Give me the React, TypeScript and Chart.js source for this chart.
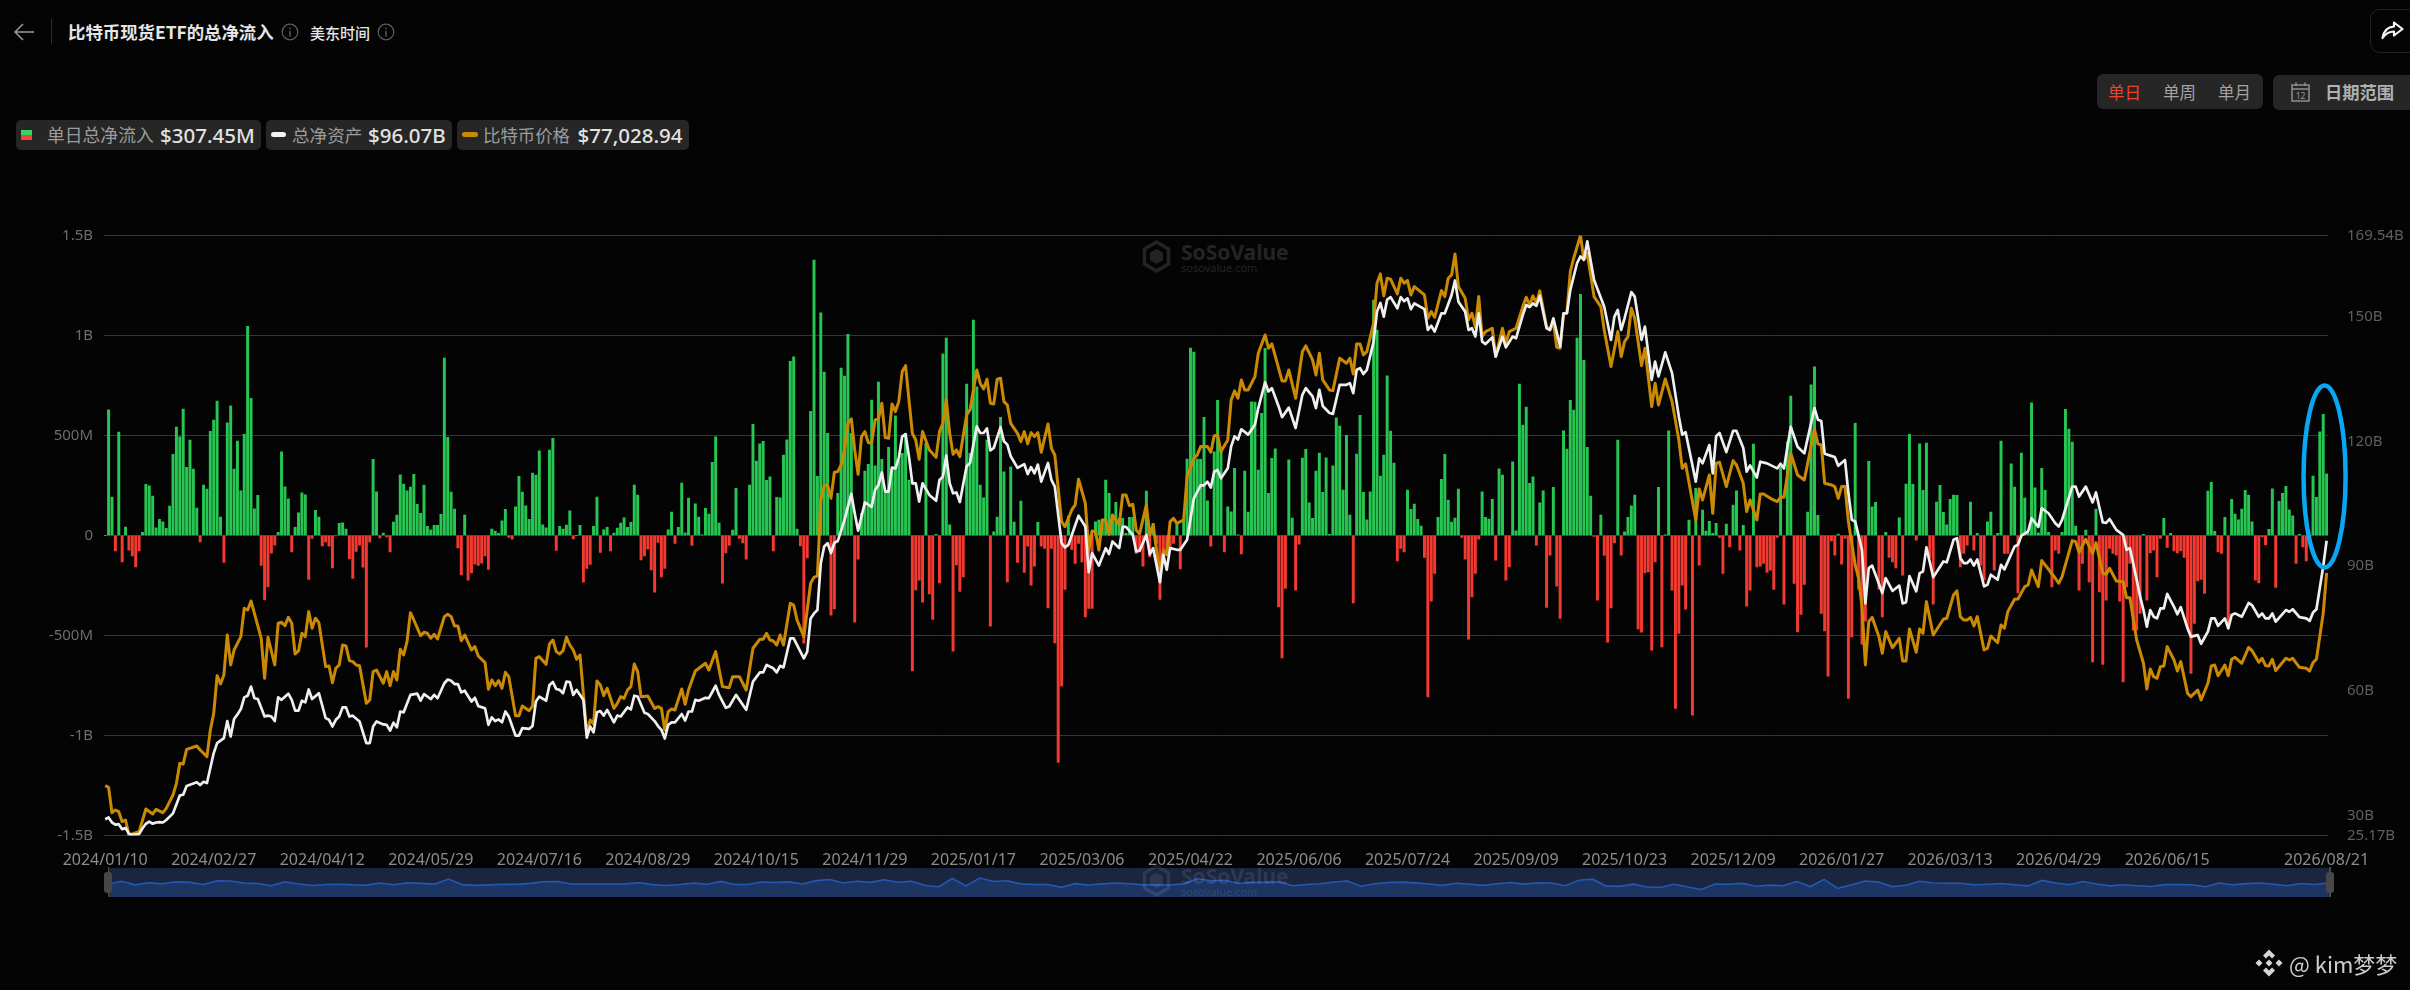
import React, { useEffect, useRef } from "react";
import { Chart, registerables } from "chart.js";

Chart.register(...registerables);

// Daily total net inflow, in millions of USD, one value per trading day.
const netInflow: number[] = [
  0,628,192,-77,517,-132,42,-73,-102,-157,
  -77,15,255,248,197,38,80,68,35,147,
  405,542,493,632,340,477,332,137,-32,252,
  232,520,577,672,92,-135,563,648,332,472,
  223,505,1045,685,133,200,-150,-322,-257,-88,
  -48,15,418,243,183,-82,40,113,213,203,
  -220,-15,125,92,-52,-32,-53,-162,-2,60,
  63,32,-117,-215,-80,-48,-158,-558,-32,380,
  218,-12,12,-7,-82,67,102,303,257,223,
  242,305,155,110,252,45,28,50,50,105,
  887,490,217,132,-62,-197,102,-223,-187,-143,
  -150,-138,-102,-170,32,22,10,73,130,-10,
  -18,143,295,217,148,80,312,302,423,53,
  38,427,485,-75,45,32,52,123,-17,0,
  50,-233,-165,-145,45,192,-85,28,40,-77,
  12,37,62,88,40,65,252,202,-122,-102,
  -68,-172,-283,-35,-207,-165,28,117,-40,40,
  262,13,187,-50,158,92,3,135,107,365,
  493,62,-238,-87,-50,27,235,-15,-37,-118,
  252,555,372,458,470,275,293,-77,190,188,
  402,478,870,893,32,-52,-538,-112,620,1377,
  295,1113,817,510,-398,-367,210,837,797,1005,
  510,-433,-118,110,322,355,677,348,767,380,
  227,440,335,598,377,410,510,277,-677,-272,
  -223,-333,460,-292,-420,5,-237,908,987,53,
  -578,-147,-280,-207,757,410,1077,743,252,188,
  477,-453,18,92,590,318,-232,343,67,-135,
  172,-185,-53,-248,-153,65,-53,-65,-362,-65,
  -537,-1135,-752,-270,97,-70,-140,-40,-132,-407,
  -365,-365,68,77,78,277,210,103,165,85,
  85,10,90,90,-90,-82,-153,222,-107,60,
  -40,-320,-140,-90,-57,-40,68,-167,77,382,
  937,917,382,380,590,173,-53,418,675,427,
  -82,143,118,335,3,-92,322,117,668,667,
  327,610,935,210,385,433,-357,-612,-265,378,
  87,-273,-43,387,430,163,85,322,412,215,
  388,5,348,588,547,227,500,102,-337,407,
  600,215,78,218,1177,1027,297,402,798,522,
  362,-127,-65,-82,227,130,157,80,47,-110,
  -807,-328,-190,90,280,405,177,67,87,232,
  -10,-118,-518,-307,-190,-18,218,90,82,180,
  -123,333,302,-223,-157,368,23,757,552,642,
  260,293,-48,163,223,-360,-98,240,-253,-415,
  523,432,675,627,987,1205,875,440,197,-5,
  -323,102,-100,-533,-362,-37,477,-98,18,90,
  148,202,-467,-483,-187,-182,-573,-132,240,-557,
  2,523,-273,-865,-490,-248,-368,77,-898,235,
  -148,127,22,70,10,60,-10,-190,57,-57,
  152,223,-73,50,-353,-273,457,-157,-153,-140,
  -185,-173,-270,-10,343,-343,468,697,-240,-482,
  -395,-245,117,753,843,100,-390,-477,-703,-27,
  -98,7,-143,-15,-815,-507,560,-268,-543,-428,
  370,143,165,-268,-407,15,-110,-132,-162,88,
  -198,257,505,255,-23,458,225,462,-110,-343,
  167,250,115,53,180,202,200,-157,-90,-48,
  167,-73,10,-148,-223,68,117,-173,10,472,
  -90,-90,358,242,-287,412,187,10,663,238,
  13,335,225,15,-257,-73,-90,15,630,532,
  467,47,-273,-140,27,-232,-632,132,-282,-645,
  -323,-65,-90,-98,-328,-732,-257,-140,-473,-473,
  -390,5,-323,-87,-73,-207,-15,85,-60,10,
  -77,-87,-77,-110,-465,-690,-440,-227,-220,-290,
  222,265,20,-82,-90,90,-465,180,107,78,
  132,225,202,68,-223,-237,-7,-47,30,233,
  -260,170,210,245,128,98,-140,5,-57,-127,
  0,297,190,518,605,307.45,
];

// Total net assets, in billions of USD: [trading-day index, value] at each turning point read.
const netAssets: [number, number][] = [
  [0,29.1],[1,29.5],[2,28.3],[3,27.8],[4,27.9],[5,26.7],[6,27],[7,25.6],[8,25.3],[10,25.5],[11,26.9],[12,28],[13,28.5],[14,28],[15,28.3],[16,28.4],[17,28.3],[18,28.9],[20,30.5],[22,34.8],[23,35],[24,37.1],[26,37.7],[27,38],[28,37.3],[29,38.1],[30,37.8],[31,41.4],[32,45],[33,47.4],[35,48.6],[36,52.7],[37,49],[38,53.2],[39,54.3],[40,55.6],[41,58.4],[42,58.8],[43,61],[44,58.2],[45,58],[47,53.8],[48,54],[49,53.8],[50,52.7],[51,58.4],[52,57.8],[54,59.3],[55,57.8],[56,55.2],[57,55.2],[58,57.6],[59,57.2],[60,60.3],[61,58],[63,59.4],[65,53.4],[66,53],[67,51.4],[68,53],[69,53.8],[70,56],[71,56],[72,53.8],[73,54],[75,52.6],[77,47.4],[78,47.4],[79,51.4],[80,52.6],[82,51.9],[83,51.8],[84,50.4],[85,52.3],[86,51.2],[87,55],[88,54.8],[90,59],[92,59.3],[93,57.6],[94,59.2],[96,58],[97,59],[98,58.2],[100,61.8],[101,62.7],[102,62.4],[103,61.6],[104,61.6],[105,59.6],[106,60],[108,57.4],[109,58.3],[110,56.3],[112,55.8],[113,51.8],[114,53.6],[115,52.7],[116,53.1],[117,52.4],[118,55],[119,53.8],[121,49.2],[122,49.2],[123,51],[125,50.8],[126,51.5],[127,57.4],[128,58.6],[130,57.6],[131,61.4],[132,62.1],[133,60.4],[134,60.2],[135,59.4],[136,62.2],[137,62.1],[138,59],[139,60.2],[141,57.8],[142,48.7],[143,51.4],[144,50],[145,54.8],[146,55.1],[147,54],[148,55.4],[150,52.4],[151,54],[152,53.8],[154,56],[155,55.5],[156,58.8],[157,58.6],[159,54.7],[160,54.4],[162,52.7],[163,51.5],
  [164,50.6],[165,48.5],[166,51.8],[167,52.4],[168,52.4],[170,54.4],[171,52.8],[172,55],[173,55],[174,57.8],[175,57.6],[177,58.3],[178,58.2],[180,61.2],[181,59],[183,55.9],[184,56.2],[186,59],[189,55.4],[191,62.2],[193,64.4],[194,64.4],[195,66.2],[197,65.4],[198,64.4],[199,66],[200,65.6],[202,72.6],[203,72.6],[206,67.8],[207,69.4],[208,77.4],[209,78.6],[210,79.4],[211,90.7],[212,94.7],[213,95.5],[214,93.1],[215,95.6],[216,96],[218,101.1],[220,107.4],[221,102.7],[222,98.5],[224,105.3],[226,104.2],[227,108.3],[228,109.5],[229,112.5],[230,107.9],[231,107.9],[232,113.7],[233,113.5],[234,116],[235,121.2],[236,121.7],[237,116.3],[238,109.9],[239,109.9],[240,105.5],[241,109.9],[243,107.1],[245,105.7],[246,110.7],[247,111.5],[248,116.6],[249,109.9],[250,107.5],[251,107.7],[252,105.4],[254,114],[255,114.8],[257,123.6],[258,122],[259,122],[260,123.1],[261,117.8],[262,118.4],[264,123.4],[265,120],[266,119.2],[267,116.4],[269,113.6],[271,114.5],[272,112.1],[273,113.8],[274,112.3],[275,114.4],[276,110.3],[278,114.8],[279,110.7],[280,109.1],[282,95.5],[283,94.5],[284,95.1],[287,102.1],[289,99.5],[290,88.5],[291,93.1],[293,90.1],[295,94.3],[296,92.9],[297,95.9],[299,94.3],[300,99.4],[301,99.4],[303,97.5],[304,93.5],[305,93.7],[307,97.5],[308,92.8],[309,94.3],[311,86.1],[312,92.7],[313,89.1],[314,94.3],[316,93.9],[317,93.9],[319,96.3],[321,106.3],[323,109.4],[324,109.4],[325,110.3],[326,108.9],[327,112.7],[328,113.1],[329,111.1],[331,113.5],[332,118.8],[333,121.2],[334,120.4],[335,122.9],[337,121.6],[339,124],[340,128],
  [342,134.2],[343,132],[344,132.8],[346,128.4],[347,125.8],[349,128.1],[351,123.2],[353,131.2],[354,132.8],[356,130.8],[357,128],[358,132.4],[359,128.5],[361,126.8],[362,126.6],[364,133.6],[366,133.6],[367,134],[368,131.6],[369,137.2],[370,137.6],[371,136.2],[372,137.2],[374,144],[375,151.2],[376,153.3],[377,150],[378,154.1],[379,154.7],[381,152],[382,154.7],[383,153.7],[384,154.4],[385,151.8],[386,153.2],[389,151.8],[390,146.8],[391,147.8],[392,146.4],[394,150.8],[395,150.8],[397,155.2],[398,158.7],[399,153.6],[401,151.2],[402,146.8],[403,147.2],[404,145.2],[405,150.8],[406,144],[407,143.4],[409,145],[410,140.4],[412,145.2],[413,142.6],[415,145.2],[416,144.8],[418,150.4],[419,152.8],[420,152.3],[421,153.2],[422,152.6],[423,155],[425,147.2],[426,146.8],[427,149.6],[429,142.8],[430,150.8],[431,150.8],[432,156.4],[434,162.9],[435,164.5],[436,163.7],[437,168.1],[439,158.8],[442,152.4],[444,144.4],[445,150],[446,151.6],[447,146.8],[448,149.6],[450,155.9],[451,154.8],[453,144.4],[454,147.6],[456,134.8],[457,139.2],[458,135.6],[460,141.4],[462,136.4],[464,126],[465,121.6],[466,122.2],[469,110.3],[470,115.9],[471,114.7],[473,119.1],[474,112.3],[475,121.2],[476,122],[478,117.4],[480,122.5],[481,122.5],[483,118.4],[484,112.7],[485,114.2],[487,111.3],[488,115.1],[490,114.7],[493,113.5],[494,114.6],[495,113.5],[497,123.5],[499,118.7],[501,117.1],[504,128],[505,125.2],[506,124.9],[507,117],[510,116.2],[511,114.1],[513,115.5],[514,107.5],[515,101.1],[516,100.7],
  [518,93.9],[519,81],[520,89.5],[521,90.1],[524,83.5],[525,87.1],[527,84],[529,85.3],[530,81],[531,81.3],[532,87.6],[534,83.9],[535,88.3],[536,88.7],[537,94.5],[539,87.3],[542,91.1],[543,90.9],[545,96.3],[546,96.7],[547,91.9],[548,90.7],[549,90.7],[550,91.6],[551,90.1],[552,91.6],[554,85.1],[555,85.5],[556,87.9],[558,86.7],[559,90.3],[560,89.2],[563,94.7],[564,95.1],[565,97.3],[567,98.3],[568,101.5],[570,99.4],[571,103.9],[573,102.7],[575,100.3],[576,99.5],[577,101.1],[580,109.1],[581,109.1],[582,106.7],[584,109.1],[586,105.3],[587,107.7],[589,100.5],[590,100.4],[591,101.3],[593,98.7],[595,97.5],[596,93.9],[597,94.3],[599,86.7],[600,82.7],[601,79.4],[602,75.4],[603,79.4],[604,77.8],[605,77.4],[606,79.8],[607,79.8],[608,83.3],[610,80.2],[611,78.4],[612,80.1],[614,75],[615,73],[616,73.2],[617,73.4],[618,71.3],[620,74.2],[621,77.4],[622,77.4],[623,75.6],[625,77.4],[626,75],[627,78.2],[628,78.6],[630,77.8],[632,81.1],[633,80.6],[635,77.8],[636,78.6],[637,77.4],[638,77.4],[639,78.6],[640,76.6],[643,79.4],[644,79],[645,79.6],[647,77.7],[649,77.4],[650,76.8],[651,78.8],[652,79.6],[654,89.9],[655,96.07],
];

// Bitcoin price, in USD: [trading-day index, value] at each turning point read.
const btcPrice: [number, number][] = [
  [0,45970],[1,45730],[2,42030],[3,42420],[4,42180],[5,40720],[6,40960],[7,38770],[10,39260],[12,42570],[14,41840],[15,42520],[17,42030],[18,42660],[20,44610],[21,46310],[22,49230],[23,49140],[24,51280],[27,51770],[28,51180],[30,50210],[31,54100],[32,56530],[33,62030],[34,60820],[35,62130],[36,67970],[37,63590],[38,65780],[40,67730],[41,71870],[42,71620],[43,72940],[46,67490],[47,61650],[48,67630],[50,63590],[51,69680],[52,69820],[53,69340],[54,70550],[55,69680],[56,65200],[57,65640],[58,68220],[59,67730],[60,71380],[61,68950],[62,70410],[63,69770],[65,63350],[66,63450],[67,61010],[68,63110],[69,63590],[70,66510],[71,66370],[72,64220],[73,64080],[74,63590],[75,63490],[77,57990],[78,58480],[79,62620],[80,62860],[82,60920],[83,62620],[84,60570],[85,62620],[86,61400],[87,65880],[88,65050],[89,67000],[90,71230],[91,70160],[93,67880],[94,68360],[95,68220],[96,67490],[97,68070],[98,67390],[100,70650],[101,70990],[102,70650],[103,69290],[104,69290],[105,67140],[106,67970],[108,65780],[109,66270],[110,64910],[112,63930],[113,60040],[114,61400],[115,60570],[116,61300],[117,60190],[118,62520],[119,61890],[121,56190],[122,56190],[123,57600],[125,56920],[126,57600],[127,64570],[128,64810],[130,63690],[131,66660],[132,67240],[133,65540],[134,65200],[135,65680],[136,67630],[137,66510],[138,65780],[139,64420],[140,65050],[142,53610],[143,55560],[144,54980],[145,61260],[146,60670],[147,59110],[148,60190],[150,57260],[151,57990],[152,58970],[153,58730],[154,59940],[155,60430],[156,63740],[157,62620],[158,58970],[160,59070],[162,57260],[163,57510],
  [164,57260],[165,54100],[166,56780],[167,57170],[168,57020],[170,60090],[171,57850],[172,59940],[174,62720],[177,63840],[178,62860],[180,65540],[182,60430],[184,60280],[185,61890],[187,61890],[189,59940],[191,66030],[193,67340],[194,67340],[195,68220],[196,67240],[197,67100],[198,66510],[199,67970],[200,66510],[202,72600],[203,72350],[204,70160],[206,67730],[208,75520],[209,76390],[210,76590],[211,87680],[212,89770],[213,89870],[214,87920],[215,91720],[216,91820],[217,92790],[218,94980],[219,98870],[220,99510],[221,94980],[222,91430],[223,96930],[224,97660],[225,96050],[226,96050],[227,99360],[228,99510],[229,101790],[230,96780],[231,96680],[232,101700],[233,100580],[234,102040],[235,106420],[236,107290],[237,102280],[238,97410],[239,96440],[240,93620],[241,97660],[243,94980],[245,93910],[246,97660],[247,98870],[248,102380],[249,97410],[250,94350],[251,94980],[252,94010],[254,100090],[255,100820],[257,106660],[258,104720],[259,103890],[260,105300],[261,101790],[262,101700],[263,105300],[264,105450],[265,102040],[266,101550],[267,98870],[269,97410],[270,96200],[271,97660],[272,95860],[273,97510],[274,96930],[275,97510],[276,94640],[278,98780],[279,95220],[280,94250],[282,84520],[283,83790],[285,86220],[286,86950],[287,90700],[289,87190],[290,80380],[291,83150],[292,83060],[293,80380],[294,84760],[295,84760],[296,82670],[297,85490],[299,84030],[300,88410],[301,88410],[302,86850],[303,87050],[304,83300],[305,82720],[307,86950],[308,82570],[309,84030],[311,76730],[312,80380],[313,79650],[314,84520],[315,85000],[316,84270],[318,84760],[319,91090],[321,93760],[322,94250],[323,95470],[325,95470],[326,94640],[327,97030],[328,97170],[329,94740],[331,96440],[332,102280],[333,103600],[334,102530],[335,105200],[336,103740],[337,103740],[339,105690],[340,109100],
  [342,111770],[343,109830],[344,110460],[346,106900],[347,105060],[348,105060],[349,106660],[351,102530],[353,109340],[354,110170],[356,108120],[357,105930],[358,109100],[359,105200],[361,103740],[362,103640],[364,108370],[366,107640],[367,108370],[368,106080],[369,110460],[370,110460],[371,108850],[372,109340],[374,113480],[375,119320],[376,120680],[377,117470],[378,120050],[379,119900],[381,117760],[382,120050],[383,119320],[384,119710],[385,117610],[386,118830],[389,117610],[390,114210],[391,115180],[392,114350],[394,118250],[395,117370],[396,120050],[397,120530],[398,123600],[399,118830],[401,117130],[402,113960],[403,114940],[404,112890],[405,117370],[406,111530],[407,112260],[409,112750],[410,108610],[412,112750],[413,110560],[414,112260],[416,112750],[418,115910],[419,117270],[420,116150],[421,117470],[422,116400],[423,118200],[425,112990],[426,112500],[427,113720],[428,109970],[429,109830],[430,114840],[431,115030],[432,121020],[433,122970],[435,126300],[436,122720],[437,123700],[439,117370],[441,115910],[442,112500],[444,107150],[446,112260],[447,108610],[448,110800],[449,111530],[450,115670],[451,114210],[453,107290],[454,109830],[456,101310],[457,104720],[458,101550],[460,105350],[462,102040],[464,96440],[465,92300],[466,92940],[469,84760],[470,89290],[471,87680],[473,91330],[474,85730],[475,93030],[476,93180],[478,89630],[480,93420],[481,92790],[483,90110],[484,85980],[485,87680],[487,84760],[488,88560],[489,88560],[491,87920],[493,87440],[494,88070],[495,88070],[497,94500],[499,91330],[501,90600],[504,97990],[505,95860],[506,95710],[507,90110],[509,89870],[510,89630],[511,87920],[512,89630],[513,89630],[514,84520],[516,78190],
  [517,76240],[518,72110],[519,63590],[520,69920],[521,70550],[523,67730],[524,65290],[525,68460],[527,66120],[529,67490],[530,64180],[531,64180],[532,68850],[534,65440],[535,68850],[536,68220],[537,72840],[539,67970],[542,70260],[543,70410],[545,73810],[546,74400],[547,70650],[548,70160],[549,70160],[550,70550],[551,69290],[552,70650],[554,65780],[555,66030],[556,67830],[558,66850],[559,69430],[560,68950],[561,71380],[563,73180],[564,73230],[566,75030],[567,75270],[568,77460],[570,75030],[571,78830],[573,77560],[575,76250],[576,75520],[577,76490],[580,81750],[581,81600],[582,80040],[584,81940],[586,79890],[587,81450],[589,76980],[590,76830],[591,77700],[593,75860],[595,75760],[596,73420],[597,73420],[599,67240],[601,63840],[602,60090],[603,63010],[604,61890],[605,61650],[606,63350],[607,63450],[608,66270],[610,64320],[611,62720],[612,64080],[614,59450],[615,58970],[617,59940],[618,58480],[620,60920],[621,63450],[622,63590],[623,62030],[625,63590],[626,62030],[627,64420],[628,64710],[630,63840],[632,66170],[633,65690],[635,63980],[636,64570],[637,63490],[638,63450],[639,64420],[640,62770],[643,64570],[644,64320],[645,64570],[647,63250],[649,63110],[650,62720],[651,63930],[652,64420],[654,71130],[655,77028.94],
];

// Date labels shown under the axis; one every 32 trading days, then the last day.
const dateTicks = [
  "2024/01/10","2024/02/27","2024/04/12","2024/05/29","2024/07/16","2024/08/29","2024/10/15",
  "2024/11/29","2025/01/17","2025/03/06","2025/04/22","2025/06/06","2025/07/24","2025/09/09",
  "2025/10/23","2025/12/09","2026/01/27","2026/03/13","2026/04/29","2026/06/15",
];
const lastDate = "2026/08/21";
const dateTickStep = 32;

const inflowTicks = ["-1.5B", "-1B", "-500M", "0", "500M", "1B", "1.5B"];
const assetTicks = [25.17, 30, 60, 90, 120, 150, 169.54];

const GREEN = "#27c653";
const RED = "#f23a30";
const ORANGE = "#cb8a04";
const WHITE = "#efefef";
const BG = "#040404";
const FONT = '"Noto Sans", "Noto Sans CJK SC", sans-serif';
const CJK = '"Noto Sans CJK SC", "Noto Sans", sans-serif';

const sparse = (pts: [number, number][]) => {
  const out: (number | null)[] = netInflow.map(() => null);
  pts.forEach(([i, v]) => (out[i] = v));
  return out;
};

const ellipsePlugin = {
  id: "highlightEllipse",
  afterDraw(chart: any) {
    const xs = chart.scales.x;
    const ys = chart.scales.y;
    const ctx = chart.ctx;
    ctx.save();
    ctx.strokeStyle = "#0aa6f3";
    ctx.lineWidth = 4.5;
    ctx.beginPath();
    ctx.ellipse(xs.getPixelForValue(654.4), ys.getPixelForValue(295), 21, 91, 0, 0, Math.PI * 2);
    ctx.stroke();
    ctx.restore();
  },
};

function T(p: { x: number; y: number; s: number; c: string; w?: number; f?: string; children: any }) {
  return (
    <span
      style={{
        position: "absolute",
        left: p.x,
        top: p.y,
        transform: "translateY(-50%)",
        fontSize: p.s,
        color: p.c,
        fontWeight: p.w ?? 400,
        fontFamily: p.f ?? CJK,
        whiteSpace: "nowrap",
        lineHeight: 1,
      }}
    >
      {p.children}
    </span>
  );
}

function Box(p: { x: number; y: number; w: number; h: number; bg?: string; r?: number; border?: string; z?: number }) {
  return (
    <div
      style={{
        position: "absolute",
        left: p.x,
        top: p.y,
        width: p.w,
        height: p.h,
        background: p.bg,
        borderRadius: p.r ?? 0,
        border: p.border,
        boxSizing: "border-box",
        zIndex: p.z,
      }}
    />
  );
}

function Info({ x }: { x: number }) {
  return (
    <svg style={{ position: "absolute", left: x - 9, top: 23 }} width="18" height="18" viewBox="0 0 18 18">
      <circle cx="9" cy="9" r="7.8" fill="none" stroke="#5e5e5e" strokeWidth="1.2" />
      <rect x="8.4" y="7.6" width="1.2" height="6" fill="#6e6e6e" />
      <rect x="8.4" y="4.6" width="1.2" height="1.6" fill="#6e6e6e" />
    </svg>
  );
}

function Watermark({ x, y, a }: { x: number; y: number; a: string }) {
  return (
    <div style={{ position: "absolute", left: x, top: y, width: 150, height: 34 }}>
      <svg style={{ position: "absolute", left: 0, top: 0 }} width="29" height="33" viewBox="0 0 29 33">
        <path d="M14.5 2 L26.5 9 V24 L14.5 31 L2.5 24 V9 Z" fill="none" stroke={a} strokeWidth="3.5" />
        <path d="M14.5 9 L21 12.5 V20 L14.5 24 L8 20 V12.5 Z" fill={a} />
      </svg>
      <span style={{ position: "absolute", left: 39, top: 0, fontFamily: FONT, fontWeight: 700, fontSize: 21, lineHeight: "24px", color: a }}>SoSoValue</span>
      <span style={{ position: "absolute", left: 39, top: 21, fontFamily: FONT, fontSize: 11, lineHeight: "13px", color: a }}>sosovalue.com</span>
    </div>
  );
}

export default function App() {
  const mainRef = useRef<HTMLCanvasElement>(null);
  const miniRef = useRef<HTMLCanvasElement>(null);

  useEffect(() => {
    document.documentElement.style.background = BG;
    document.body.style.margin = "0";
    document.body.style.background = BG;
    document.body.style.overflow = "hidden";

    const labels = netInflow.map((_, i) => String(i));
    const tickText = (i: number) => {
      if (i === netInflow.length - 1) return lastDate;
      if (i % dateTickStep === 0) return dateTicks[i / dateTickStep] ?? "";
      return "";
    };

    const main = new Chart(mainRef.current as HTMLCanvasElement, {
      type: "bar",
      data: {
        labels,
        datasets: [
          {
            type: "line",
            label: "总净资产",
            data: sparse(netAssets),
            yAxisID: "yAssets",
            borderColor: WHITE,
            borderWidth: 2.7,
            borderJoinStyle: "round",
            pointRadius: 0,
            spanGaps: true,
            tension: 0,
            order: 1,
          },
          {
            type: "line",
            label: "比特币价格",
            data: sparse(btcPrice),
            yAxisID: "yPrice",
            borderColor: ORANGE,
            borderWidth: 3,
            borderJoinStyle: "round",
            pointRadius: 0,
            spanGaps: true,
            tension: 0,
            order: 2,
          },
          {
            type: "bar",
            label: "单日总净流入",
            data: netInflow,
            yAxisID: "y",
            backgroundColor: netInflow.map((v) => (v >= 0 ? GREEN : RED)),
            barThickness: 2.3,
            order: 3,
          },
        ],
      } as any,
      options: {
        responsive: false,
        animation: false,
        devicePixelRatio: 1,
        layout: { padding: { top: 235.4, left: 0, right: 0, bottom: 0 } },
        plugins: { legend: { display: false }, tooltip: { enabled: false } },
        scales: {
          x: {
            type: "category",
            offset: true,
            grid: { display: false },
            border: { display: false },
            afterFit: (s: any) => {
              s.height = 154.5;
            },
            ticks: {
              autoSkip: false,
              maxRotation: 0,
              minRotation: 0,
              padding: 7,
              color: "#8c8c8c",
              font: { family: FONT, size: 16 },
              callback: (_: any, i: number) => tickText(i),
            },
          },
          y: {
            position: "left",
            min: -1500,
            max: 1500,
            afterFit: (s: any) => {
              s.width = 103.5;
            },
            afterBuildTicks: (s: any) => {
              s.ticks = inflowTicks.map((_, i) => ({ value: -1500 + i * 500 }));
            },
            grid: { color: "#353535", lineWidth: 1, drawTicks: false },
            border: { display: false },
            ticks: {
              padding: 10.5,
              color: "#6c6c6c",
              font: { family: FONT, size: 15 },
              callback: (v: any) => inflowTicks[(Number(v) + 1500) / 500],
            },
          },
          yAssets: {
            position: "right",
            min: assetTicks[0],
            max: assetTicks[assetTicks.length - 1],
            afterFit: (s: any) => {
              s.width = 81.7;
            },
            afterBuildTicks: (s: any) => {
              s.ticks = assetTicks.map((value) => ({ value }));
            },
            grid: { display: false },
            border: { display: false },
            ticks: {
              padding: 10.7,
              color: "#5f5f5f",
              font: { family: FONT, size: 15 },
              callback: (v: any) => `${v}B`,
            },
          },
          yPrice: { display: false, min: 38700, max: 126300 },
        },
      } as any,
      plugins: [ellipsePlugin],
    });

    // The slider's preview samples the daily series, as the original does.
    const sampled = netInflow.filter((_, i) => i % 4 === 0);
    const mini = new Chart(miniRef.current as HTMLCanvasElement, {
      type: "line",
      data: {
        labels: sampled.map((_, i) => String(i)),
        datasets: [
          {
            data: sampled,
            borderColor: "#2458b4",
            borderWidth: 1.6,
            backgroundColor: "#1c3563",
            fill: "start",
            pointRadius: 0,
            tension: 0,
          },
        ],
      },
      options: {
        responsive: false,
        animation: false,
        devicePixelRatio: 1,
        layout: { padding: 0 },
        plugins: { legend: { display: false }, tooltip: { enabled: false } },
        scales: {
          x: { display: false, offset: false },
          y: { display: false, min: -2200, max: 2800 },
        },
      } as any,
    });

    return () => {
      main.destroy();
      mini.destroy();
    };
  }, []);

  return (
    <div style={{ position: "relative", width: 2410, height: 990, background: BG, overflow: "hidden" }}>
      {/* header */}
      <svg style={{ position: "absolute", left: 13, top: 22 }} width="22" height="20" viewBox="0 0 22 20">
        <path d="M21 10 H2 M10 2 L2 10 L10 18" fill="none" stroke="#9a9a9a" strokeWidth="1.5" />
      </svg>
      <Box x={51} y={19} w={1} h={25} bg="#2c2c2c" />
      <T x={68} y={32} s={17.4} c="#e6e6e6" w={700}>比特币现货ETF的总净流入</T>
      <Info x={290} />
      <T x={310} y={32} s={15} c="#e6e6e6" w={500}>美东时间</T>
      <Info x={386} />

      {/* share */}
      <Box x={2370} y={9} w={50} h={44} r={10} border="1px solid #232323" />
      <svg style={{ position: "absolute", left: 2381, top: 21 }} width="23" height="19" viewBox="0 0 23 19">
        <path d="M13 1.5 L21.5 8 L13 14.5 V10.5 C8 10.5 4.5 12.5 1.5 17 C2.5 10.5 6.5 6 13 5.5 Z" fill="none" stroke="#f4f4f4" strokeWidth="2.2" strokeLinejoin="round" />
      </svg>

      {/* period switch */}
      <Box x={2097} y={74} w={166} h={35} r={6} bg="#262626" />
      <T x={2108} y={91.5} s={16.5} c="#ee4426">单日</T>
      <T x={2163} y={91.5} s={16.5} c="#a4a4a4">单周</T>
      <T x={2218} y={91.5} s={16.5} c="#a4a4a4">单月</T>
      <Box x={2273} y={75} w={150} h={35} r={6} bg="#262626" />
      <svg style={{ position: "absolute", left: 2291, top: 82 }} width="19" height="20" viewBox="0 0 19 20">
        <rect x="1" y="3" width="17" height="16" fill="none" stroke="#8e8e8e" strokeWidth="1.5" />
        <path d="M1 7 H18 M5 0.5 V4 M14 0.5 V4" stroke="#8e8e8e" strokeWidth="1.5" />
        <text x="9.5" y="16.5" textAnchor="middle" fontSize="8.5" fontFamily={FONT} fill="#9a9a9a">12</text>
      </svg>
      <T x={2325} y={92} s={17.3} c="#b0b0b0" w={700}>日期范围</T>

      {/* legend chips */}
      <Box x={16} y={120} w={245} h={30} r={5} bg="#262626" />
      <Box x={21} y={130} w={10.5} h={5} bg="#37d65e" />
      <Box x={21} y={135} w={10.5} h={5} bg="#f4453a" />
      <T x={47} y={135} s={17.8} c="#9c9c9c">单日总净流入</T>
      <T x={160} y={135} s={20.5} c="#e2e2e2" w={500} f={FONT}>$307.45M</T>

      <Box x={266} y={120} w={186} h={30} r={5} bg="#262626" />
      <Box x={271} y={131.5} w={15} h={5} r={2.5} bg="#f2f2f2" />
      <T x={292} y={135} s={17.6} c="#9c9c9c">总净资产</T>
      <T x={368} y={135} s={20.5} c="#e2e2e2" w={500} f={FONT}>$96.07B</T>

      <Box x={457} y={120} w={232} h={30} r={5} bg="#262626" />
      <Box x={462} y={131.5} w={15.5} h={5} r={2.5} bg={ORANGE} />
      <T x={483} y={135} s={17.4} c="#9c9c9c">比特币价格</T>
      <T x={577.5} y={135} s={20.5} c="#e2e2e2" w={500} f={FONT}>$77,028.94</T>

      {/* watermark behind the plot */}
      <Watermark x={1142} y={240} a="#242424" />

      <canvas ref={mainRef} width={2410} height={990} style={{ position: "absolute", left: 0, top: 0, display: "block" }} />

      {/* range slider */}
      <Box x={108} y={867.7} w={2220.5} h={29.3} bg="#1a2540" />
      <canvas ref={miniRef} width={2220} height={29} style={{ position: "absolute", left: 108, top: 868, display: "block" }} />
      <Box x={107.5} y={867} w={1.5} h={30} bg="#4a4a4a" />
      <Box x={104} y={871.7} w={8} h={21} r={3} bg="#474747" />
      <Box x={2329} y={867} w={1.5} h={30} bg="#4a4a4a" />
      <Box x={2325.7} y={871.7} w={8} h={21} r={3} bg="#474747" />
      <Watermark x={1142} y={864} a="rgba(255,255,255,0.09)" />

      {/* credit */}
      <svg style={{ position: "absolute", left: 2255, top: 949 }} width="28" height="28" viewBox="0 0 28 28">
        <g fill="#d6d6d6">
          <path d="M14 0.5 L20 6.5 L17 9.5 L14 6.5 L11 9.5 L8 6.5 Z" />
          <path d="M14 27.5 L20 21.5 L17 18.5 L14 21.5 L11 18.5 L8 21.5 Z" />
          <path d="M0.5 14 L4 10.5 L7.5 14 L4 17.5 Z" />
          <path d="M27.5 14 L24 10.5 L20.5 14 L24 17.5 Z" />
          <path d="M14 10.5 L17.5 14 L14 17.5 L10.5 14 Z" />
        </g>
      </svg>
      <T x={2289} y={963} s={22} c="#cdcdcd" f={CJK}>@ kim梦梦</T>
    </div>
  );
}
